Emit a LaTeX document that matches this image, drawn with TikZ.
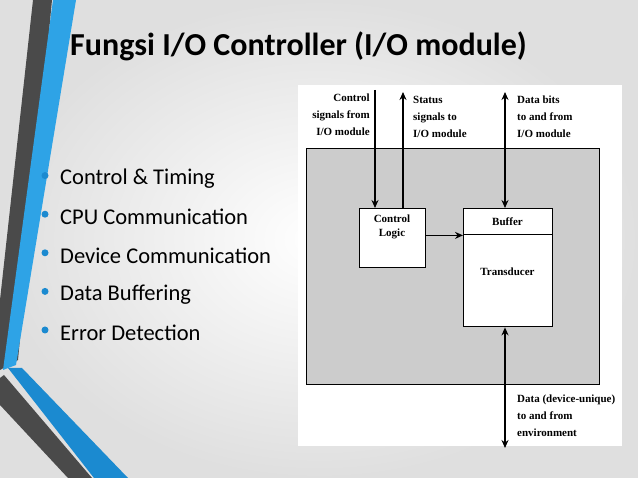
\documentclass[tikz,border=0pt]{standalone}
\usepackage{fontspec}
\setmainfont{Carlito}
\newfontfamily\dfont{Liberation Serif}
\usetikzlibrary{arrows.meta}
\definecolor{dgray}{HTML}{4A4A4A}
\definecolor{lblue}{HTML}{2EA3E6}
\definecolor{mblue}{HTML}{1B8AD0}
\definecolor{boxgray}{HTML}{CCCCCC}
\tikzset{
  box/.style={draw,line width=1.4pt,fill=white,inner sep=0pt},
  lab/.style={font=\dfont\bfseries\fontsize{11}{17}\selectfont,align=left,inner sep=0pt},
  arr/.style={line width=1.2pt,-{Stealth[length=8pt,width=7pt]}},
  darr/.style={line width=1.2pt,{Stealth[length=8pt,width=7pt]}-{Stealth[length=8pt,width=7pt]}},
  bul/.style={font=\fontsize{22.5}{26}\selectfont,anchor=west,inner sep=0pt},
  dot/.style={circle,fill=mblue,inner sep=0pt,minimum size=7pt}
}
\begin{document}
\begin{tikzpicture}[x=1pt,y=-1pt]
\useasboundingbox (0,0) rectangle (638,478);
\shade[inner color=white,outer color=gray!25] (0,0) rectangle (638,478);
% decorative bands
\fill[dgray] (33,0) -- (52,0) -- (18,360) -- (0,370) -- (0,300) -- cycle;
\fill[lblue] (53,0) -- (76,0) -- (16,365) -- (3,370) -- cycle;
\fill[mblue] (8,368) -- (22,368) -- (128,478) -- (94,478) -- cycle;
\fill[dgray] (0,378) -- (4,375) -- (92,478) -- (68,478) -- (0,405) -- cycle;
% title
\node[font=\bfseries\fontsize{32}{36}\selectfont,anchor=west,inner sep=0pt] (title) at (70,46) {Fungsi I/O Controller (I/O module)};
% bullets
\foreach \t [count=\i] in {Control \& Timing,CPU Communication,Device Communication,Data Buffering,Error Detection}{
  \node[dot] (d\i) at (45,{137+38.6*\i}) {};
  \node[bul] (b\i) at (60,{140+38.6*\i}) {\t};
}
% diagram
\fill[white] (298,85) rectangle (622,446);
\node[draw,line width=1.4pt,fill=boxgray,minimum width=293pt,minimum height=236pt,anchor=north west,inner sep=0pt] (mod) at (306,148) {};
\node[box,minimum width=66pt,minimum height=59pt,anchor=north west] (cl) at (359,208) {};
\node[lab,font=\dfont\bfseries\fontsize{11}{14}\selectfont,align=center,anchor=north] (clt) at (392,215) {Control\\Logic};
\node[box,minimum width=89pt,minimum height=26pt,anchor=north west] (buf) at (463,208) {};
\node[lab,anchor=center] (buft) at (507.5,222) {Buffer};
\node[box,minimum width=89pt,minimum height=92pt,anchor=north west] (tr) at (463,234) {};
\node[lab,anchor=center] (trt) at (507.5,272) {Transducer};
\coordinate (cin) at (375,90);
\coordinate (sout) at (403,92);
\coordinate (dtop) at (505,92);
\coordinate (dbot) at (505,448);
\draw[arr] (cin) -- (cin |- cl.north);
\draw[arr] (sout |- cl.north) -- (sout);
\draw[darr] (dtop) -- (dtop |- buf.north);
\draw[darr] (dtop |- tr.south) -- (dbot);
\draw[arr] (cl.east |- buf.south) -- (buf.south west);
\node[lab,align=right,anchor=north east] (l1) at (370,94) {Control\\signals from\\I/O module};
\node[lab,anchor=north west] (l2) at (413,96) {Status\\signals to\\I/O module};
\node[lab,anchor=north west] (l3) at (517,96) {Data bits\\to and from\\I/O module};
\node[lab,anchor=north west] (l4) at (517,395) {Data (device-unique)\\to and from\\environment};
\end{tikzpicture}
\end{document}
